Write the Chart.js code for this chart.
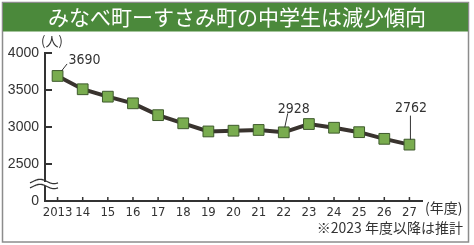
<!DOCTYPE html>
<html>
<head>
<meta charset="utf-8">
<script src="https://cdn.jsdelivr.net/npm/chart.js@4.4.1/dist/chart.umd.min.js"></script>
<style>
  html, body { margin: 0; padding: 0; background: #fff; }
</style>
</head>
<body>
<canvas id="chart" width="474" height="245"></canvas>
<script>
// data
const years = ["2013", "14", "15", "16", "17", "18", "19", "20", "21", "22", "23", "24", "25", "26", "27"];
const students = [3690, 3510, 3410, 3320, 3160, 3050, 2940, 2950, 2960, 2928, 3040, 2990, 2930, 2840, 2762];
const yTickValues = [2000, 2500, 3000, 3500, 4000];
const yTickLabels = ["0", "2500", "3000", "3500", "4000"]; // axis is broken below 2500
const labelledPoints = [0, 9, 14];

const titleText = "みなべ町ーすさみ町の中学生は減少傾向";
const unitText = "(人)";
const yearUnitText = "(年度)";
const noteText = "※2023 年度以降は推計";

const inkColor = "#333";
const titleGreen = "#4b893b";
const markerGreen = "#79ac4f";
const lineColor = "#39332e";
const numFont = "'Liberation Sans Narrow', 'DejaVu Sans Condensed', sans-serif";
const jpFont = "'Noto Sans CJK JP', sans-serif";

// frame, title bar, inner ticks, axis break and labels
const decorPlugin = {
  id: "decor",
  beforeDraw(chart) {
    const ctx = chart.ctx;
    ctx.save();
    ctx.fillStyle = "#fff";
    ctx.fillRect(0, 0, chart.width, chart.height);
    ctx.strokeStyle = "#8c8c8c";
    ctx.lineWidth = 1.5;
    ctx.strokeRect(2.5, 2.5, 466, 239.5);
    ctx.fillStyle = titleGreen;
    ctx.fillRect(3, 3, 465, 28.5);
    ctx.fillStyle = "#fff";
    ctx.font = "21px " + jpFont;
    ctx.textAlign = "center";
    ctx.textBaseline = "middle";
    ctx.fillText(titleText, 237, 17.5);
    ctx.restore();
  },
  afterDraw(chart) {
    const ctx = chart.ctx;
    const area = chart.chartArea;
    const x = chart.scales.x;
    const y = chart.scales.y;
    ctx.save();
    ctx.strokeStyle = inkColor;
    ctx.lineWidth = 2;

    // y ticks point into the plot
    yTickValues.slice(1).forEach((v) => {
      const py = y.getPixelForValue(v);
      ctx.beginPath();
      ctx.moveTo(area.left, py);
      ctx.lineTo(area.left + 7, py);
      ctx.stroke();
    });
    // x ticks point upward
    ctx.lineWidth = 1.5;
    years.forEach((_, i) => {
      const px = x.getPixelForValue(i);
      ctx.beginPath();
      ctx.moveTo(px, area.bottom);
      ctx.lineTo(px, area.bottom - 4);
      ctx.stroke();
    });

    // axis break
    const by = y.getPixelForValue(2230);
    const wave = (off) => {
      ctx.beginPath();
      for (let t = 0; t <= 28; t++) {
        const wx = area.left - 15 + t;
        const wy = by + off - 2.2 * Math.sin(((t - 3) / 28) * Math.PI * 2);
        if (t === 0) ctx.moveTo(wx, wy);
        else ctx.lineTo(wx, wy);
      }
    };
    ctx.fillStyle = "#fff";
    ctx.fillRect(area.left - 2, by - 2, 4, 4);
    ctx.lineWidth = 1.3;
    wave(-2.5);
    ctx.stroke();
    wave(2.5);
    ctx.stroke();

    // value callouts
    const meta = chart.getDatasetMeta(0);
    ctx.fillStyle = inkColor;
    ctx.font = "14px " + numFont;
    ctx.textBaseline = "middle";
    ctx.lineWidth = 1;
    labelledPoints.forEach((i) => {
      const p = meta.data[i];
      const txt = String(students[i]);
      let line, tx, ty, align;
      if (i === 0) {
        line = [p.x + 4, p.y - 5, p.x + 9.5, p.y - 12];
        tx = p.x + 11; ty = p.y - 16; align = "left";
      } else if (i === labelledPoints[1]) {
        line = [p.x + 4, p.y - 19, p.x + 1, p.y - 5];
        tx = p.x + 10; ty = p.y - 23; align = "center";
      } else {
        line = [p.x + 1, p.y - 29, p.x + 1, p.y - 5];
        tx = p.x + 1.5; ty = p.y - 36; align = "center";
      }
      ctx.beginPath();
      ctx.moveTo(line[0], line[1]);
      ctx.lineTo(line[2], line[3]);
      ctx.stroke();
      ctx.textAlign = align;
      ctx.fillText(txt, tx, ty);
    });

    // units and note
    ctx.font = "13px " + jpFont;
    ctx.textAlign = "center";
    ctx.fillText(unitText, 52, 41);
    ctx.font = "14px " + jpFont;
    ctx.textAlign = "left";
    ctx.fillText(yearUnitText, 425, 208);
    ctx.textAlign = "right";
    ctx.fillText(noteText, 463, 228);
    ctx.restore();
  },
};

const chart = new Chart(document.getElementById("chart"), {
  type: "line",
  data: {
    labels: years,
    datasets: [
      {
        data: students,
        borderColor: lineColor,
        borderWidth: 4,
        tension: 0,
        pointStyle: "rect",
        pointRadius: 7.6,
        pointBackgroundColor: markerGreen,
        pointBorderColor: "#3e5a2c",
        pointBorderWidth: 1,
        clip: false,
      },
    ],
  },
  options: {
    responsive: false,
    animation: false,
    layout: { padding: { top: 53, right: 52, bottom: 0, left: 0 } },
    plugins: {
      legend: { display: false },
      title: { display: false },
      tooltip: { enabled: false },
    },
    scales: {
      x: {
        type: "category",
        offset: true,
        grid: { display: true, drawOnChartArea: false, drawTicks: false },
        border: { display: true, color: inkColor, width: 2 },
        ticks: {
          color: inkColor,
          font: { family: numFont, size: 13 },
          padding: 4,
          maxRotation: 0,
          autoSkip: false,
        },
        afterFit(scale) {
          scale.height = 44;
        },
      },
      y: {
        min: 2000,
        max: 4000,
        grid: { display: true, drawOnChartArea: false, drawTicks: false },
        border: { display: true, color: inkColor, width: 2 },
        afterBuildTicks(scale) {
          scale.ticks = yTickValues.map((v) => ({ value: v }));
        },
        ticks: {
          color: inkColor,
          font: { family: "'Liberation Sans', sans-serif", size: 14 },
          padding: 6,
          callback: (v) => yTickLabels[yTickValues.indexOf(v)],
        },
        afterFit(scale) {
          scale.width = 45;
        },
      },
    },
  },
  plugins: [decorPlugin],
});
</script>
</body>
</html>
